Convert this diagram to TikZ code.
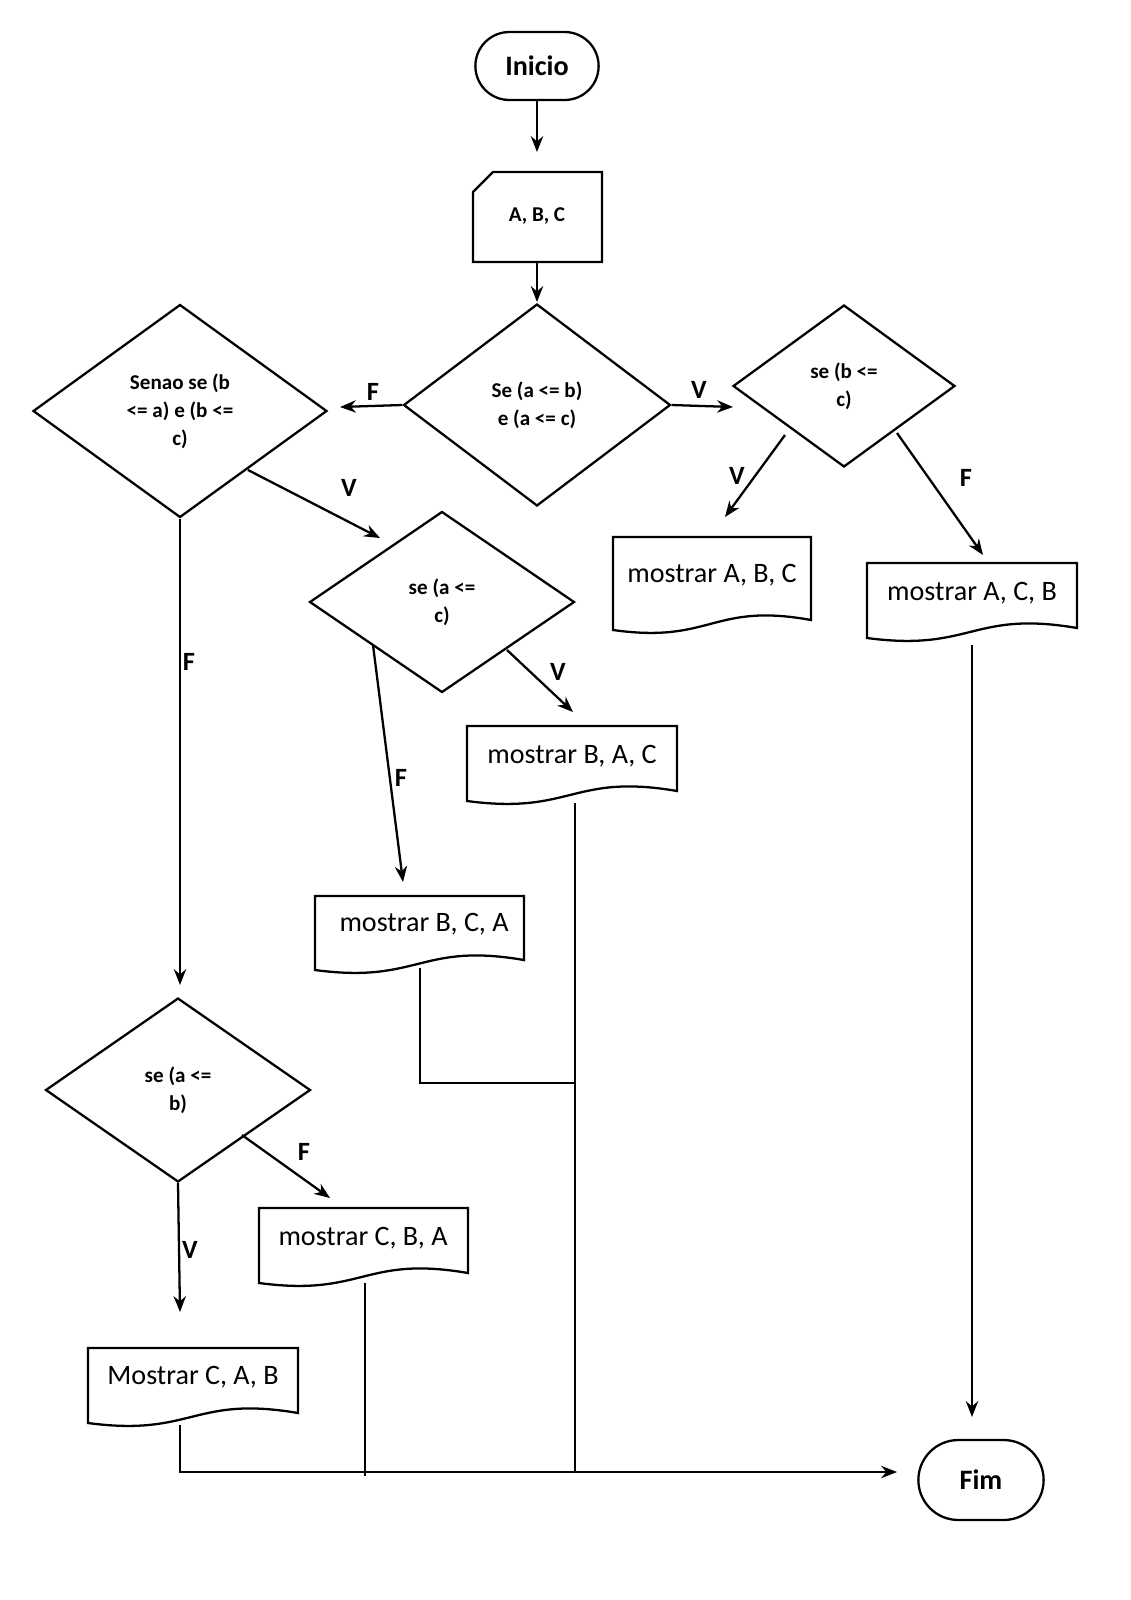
\documentclass[tikz,border=0pt]{standalone}
\usepackage{fontspec}
\setmainfont{Carlito}
\usetikzlibrary{shapes.geometric,shapes.misc,arrows.meta}
\newcommand{\docshape}[4]{% x0 y0 x1 y1
  \draw (#1,#2) -- (#3,#2) -- (#3,#4-12) .. controls ({(#1+#3)/2},#4-30) and ({(#1+#3)/2},#4+12) .. (#1,#4-2) -- cycle;}
\begin{document}
\begin{tikzpicture}[x=0.02cm,y=-0.02cm,
  line width=1.3pt,
  arr/.style={-{Stealth[length=9pt,width=7pt]}},
  dia/.style={draw,diamond,inner sep=0pt,align=center,font=\fontsize{12}{16}\selectfont\bfseries},
  term/.style={draw,rounded rectangle,minimum width=2.7cm,minimum height=1.36cm,font=\fontsize{16}{18}\selectfont\bfseries},
  lab/.style={font=\fontsize{15}{16}\selectfont\bfseries},
  doctext/.style={font=\fontsize{16}{18}\selectfont}]
% terminals
\node[term] (ini) at (537,66) {Inicio};
\node[term,minimum width=2.74cm,minimum height=1.6cm] (fim) at (981,1480) {Fim};
% input card
\draw (493,172) -- (602,172) -- (602,262) -- (473,262) -- (473,192) -- cycle;
\node[font=\fontsize{12}{14}\selectfont\bfseries] (inp) at (537,216) {A, B, C};
\coordinate (inpB) at (537,262);
% diamonds
\node[dia,minimum width=5.34cm,minimum height=4.04cm] (d1) at (537,405) {Se (a <= b)\\e (a <= c)};
\node[dia,minimum width=4.44cm,minimum height=3.24cm] (d2) at (844,386) {se (b <=\\c)};
\node[dia,minimum width=5.88cm,minimum height=4.26cm] (d3) at (180,411) {Senao se (b\\<= a) e (b <=\\c)};
\node[dia,minimum width=5.3cm,minimum height=3.62cm] (d4) at (442,602) {se (a <=\\c)};
\node[dia,minimum width=5.3cm,minimum height=3.68cm] (d5) at (178,1090) {se (a <=\\b)};
% documents
\docshape{613}{537}{811}{632}
\node[doctext] (m1) at (712,575) {mostrar A, B, C};
\docshape{867}{563}{1077}{640}
\node[doctext] (m2) at (972,593) {mostrar A, C, B};
\docshape{467}{726}{677}{803}
\node[doctext] (m3) at (572,756) {mostrar B, A, C};
\docshape{315}{896}{524}{972}
\node[doctext] (m4) at (424,924) {mostrar B, C, A};
\docshape{259}{1208}{468}{1285}
\node[doctext] (m5) at (363,1238) {mostrar C, B, A};
\docshape{88}{1348}{298}{1425}
\node[doctext] (m6) at (193,1377) {Mostrar C, A, B};
% coordinates
\coordinate (a1) at (537,152);
\coordinate (a2) at (537,302);
\coordinate (fL) at (340,407);
\coordinate (vR) at (733,407);
\coordinate (d2v) at (785,435); \coordinate (m1t) at (725,517);
\coordinate (d2f) at (897,433); \coordinate (m2t) at (983,555);
\coordinate (m2b) at (972,645); \coordinate (fimT) at (972,1417);
\coordinate (d3v) at (248,470); \coordinate (d4t) at (380,538);
\coordinate (d4v) at (507,650); \coordinate (m3t) at (573,712);
\coordinate (d4f) at (373,645); \coordinate (m4t) at (403,882);
\coordinate (d5t) at (180,985);
\coordinate (d5f) at (242,1135); \coordinate (m5t) at (330,1198);
\coordinate (m6t) at (180,1312);
\coordinate (m4b) at (420,968); \coordinate (j1) at (420,1083); \coordinate (j2) at (575,1083);
\coordinate (m3b) at (575,803); \coordinate (j3) at (575,1472);
\coordinate (m5b) at (365,1283); \coordinate (j4) at (365,1476);
\coordinate (m6b) at (180,1425); \coordinate (j5) at (180,1472); \coordinate (fimL) at (897,1472);
% connectors
\draw[arr] (ini.south) -- (a1);
\draw[arr] (inpB) -- (a2);
\draw[arr] (d1.west) -- (fL);
\draw[arr] (d1.east) -- (vR);
\draw[arr] (d2v) -- (m1t);
\draw[arr] (d2f) -- (m2t);
\draw[arr] (m2b) -- (fimT);
\draw[arr] (d3v) -- (d4t);
\draw[arr] (d4v) -- (m3t);
\draw[arr] (d4f) -- (m4t);
\draw[arr] (d3.south) -- (d5t);
\draw[arr] (d5f) -- (m5t);
\draw[arr] (d5.south) -- (m6t);
\draw (m4b) -- (j1) -- (j2);
\draw (m3b) -- (j3);
\draw (m5b) -- (j4);
\draw[arr] (m6b) -- (j5) -- (fimL);
% labels
\node[lab] at (373,392) {F};
\node[lab] at (699,390) {V};
\node[lab] at (737,476) {V};
\node[lab] at (966,478) {F};
\node[lab] at (349,488) {V};
\node[lab] at (558,672) {V};
\node[lab] at (401,778) {F};
\node[lab] at (189,662) {F};
\node[lab] at (304,1152) {F};
\node[lab] at (190,1250) {V};
\pgfresetboundingbox
\useasboundingbox (0,0) rectangle (1131,1600);
\end{tikzpicture}
\end{document}
